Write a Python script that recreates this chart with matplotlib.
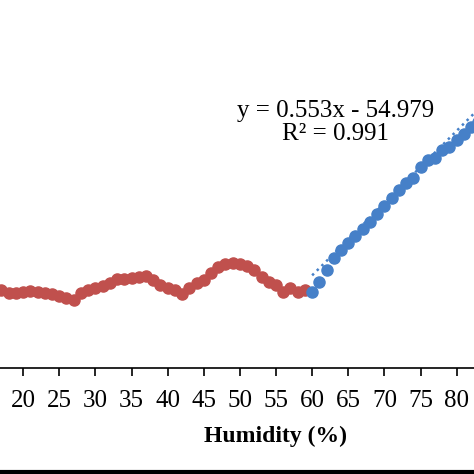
import numpy as np
import matplotlib
matplotlib.use("Agg")
import matplotlib.pyplot as plt
from matplotlib.lines import Line2D

red_x = list(range(17, 60))
red_y = [10, 7.3, 6.7, 8.3, 9.3, 8.3, 6.7, 5.7, 4, 1.7, 0, 6.7, 10, 11.7, 14, 17.3, 20.7, 20.7,
         21.7, 22.7, 24, 20, 15, 11.7, 10, 6, 11.7, 16.7, 20, 26.7, 33.3, 36, 37.3, 36, 34, 30,
         22.7, 18.3, 15, 8.3, 11.7, 8.3, 10]
blue_x = list(range(60, 84))
blue_y = [8, 18, 30, 42, 50, 57, 64, 71, 78, 86, 94, 102, 110, 117, 122, 133, 140, 142, 150,
          153, 160, 166, 173, 178]
xticks = list(range(20, 85, 5))

plt.rcParams['font.family'] = ['Liberation Serif', 'DejaVu Serif']
fig = plt.figure(figsize=(4.74, 4.74), dpi=100)
ax = fig.add_axes([0, 0.2236, 1, 0.776])
ax.plot(red_x, red_y, 'o-', color='#C0504D', ms=8, lw=3)
ax.plot(blue_x, blue_y, 'o', color='#4680C8', ms=8)
p = np.polyfit(blue_x, blue_y, 1)
tx = np.array([60, 84])
ax.plot(tx, np.polyval(p, tx) + 6, ':', color='#4680C8', lw=1.8)
ax.set_xlim(16.8, 82.4)
ax.set_ylim(-68, 300)
ax.set_xticks(xticks)
ax.tick_params(axis='x', direction='out', length=6, width=1.2, labelsize=18, pad=10)
ax.set_yticks([])
for s in ['top', 'right', 'left']:
    ax.spines[s].set_visible(False)
ax.spines['bottom'].set_linewidth(1.2)
ax.text(63.2, 178, 'y = 0.553x - 54.979\nR² = 0.991', ha='center', va='center',
        fontsize=18, linespacing=1.05)
fig.text(0.582, 0.08, 'Humidity (%)', ha='center', va='center', fontsize=17, fontweight='bold')
fig.add_artist(Line2D([0, 1], [0.004, 0.004], color='black', lw=3, transform=fig.transFigure))
fig.savefig('out.png', dpi=100)
